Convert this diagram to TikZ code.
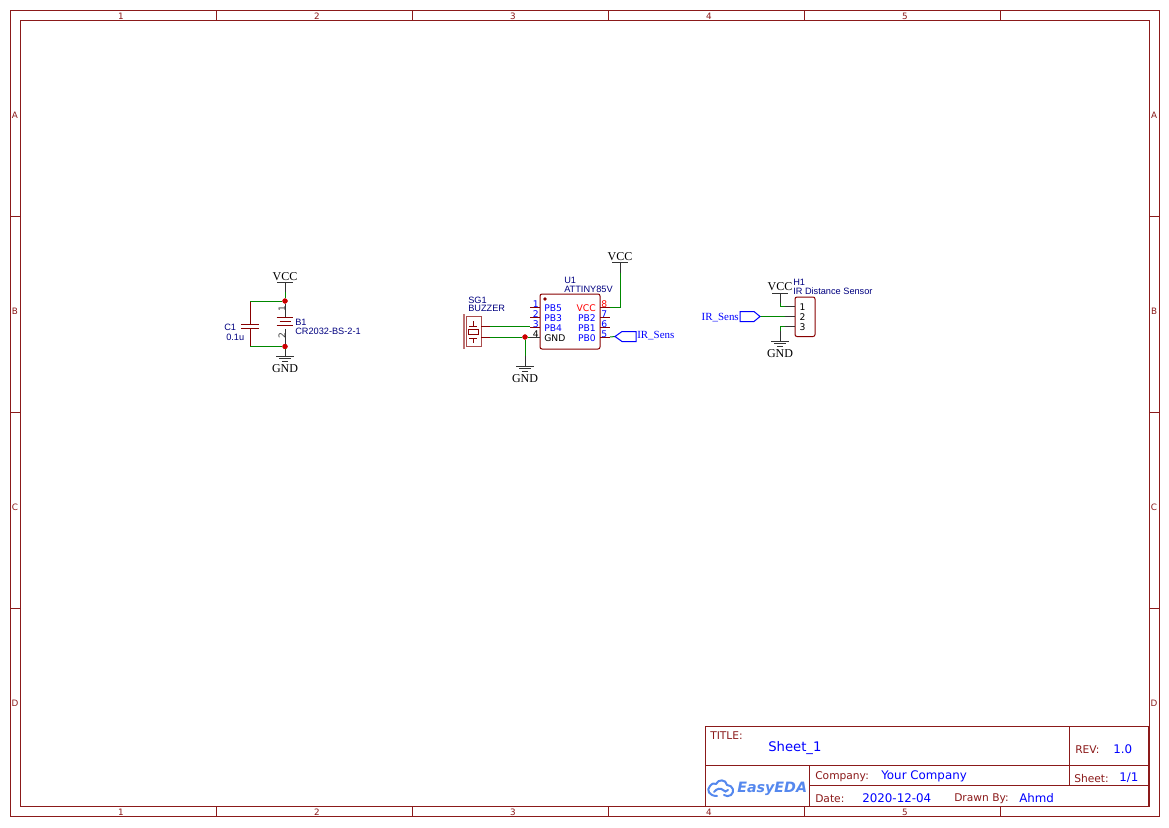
\documentclass[tikz,border=0pt]{standalone}
\usepackage{fontspec}
\setmainfont{DejaVu Sans}
\newfontfamily\arialf{Liberation Sans}
\newfontfamily\timesf{Liberation Serif}
\newfontfamily\logof{DejaVu Sans}
\definecolor{framered}{HTML}{8B1A1A}
\definecolor{symred}{HTML}{880000}
\definecolor{wiregreen}{HTML}{008800}
\definecolor{netblue}{HTML}{0000FF}
\definecolor{pinnavy}{HTML}{000080}
\definecolor{logoblue}{HTML}{5588EE}
\definecolor{juncred}{HTML}{CC0000}
\tikzset{
  x=0.75pt,y=-0.75pt,
  frameline/.style={draw=framered,line width=0.7pt},
  ticktxt/.style={text=framered,font=\fontsize{6.6}{7}\selectfont,inner sep=0pt},
  blocklbl/.style={text=framered,font=\fontsize{8}{9}\selectfont,inner sep=0pt,anchor=west},
  blockval/.style={text=netblue,font=\fontsize{8.9}{10}\selectfont,inner sep=0pt,anchor=west},
  wireg/.style={draw=wiregreen,line width=0.75pt},
  pinline/.style={draw=symred,line width=0.75pt},
  blkline/.style={draw=black!80,line width=0.75pt},
  symline/.style={draw=symred,line width=0.75pt},
  refname/.style={text=pinnavy,font=\arialf\fontsize{6.9}{8}\selectfont,inner sep=0pt,anchor=west},
  nettxt/.style={text=black,font=\timesf\fontsize{9}{10}\selectfont,inner sep=0pt},
  flagtxt/.style={text=netblue,font=\timesf\fontsize{8.2}{9}\selectfont,inner sep=0pt},
  pintxt/.style={text=netblue,font=\fontsize{6.9}{8}\selectfont,inner sep=0pt},
  pinnum/.style={text=netblue,font=\fontsize{6.9}{8}\selectfont,inner sep=0pt},
  junction/.style={circle,fill=juncred,inner sep=0pt,minimum size=3.9pt},
  powerbar/.style={draw=black!80,line width=0.75pt},
  flagshape/.style={draw=netblue,line width=0.75pt,fill=white},
}
\begin{document}
\begin{tikzpicture}
\useasboundingbox (0,0) rectangle (1169,827);
\fill[white] (0,0) rectangle (1169,827);
% sheet frame
\draw[frameline] (10.5,10.5) rectangle (1159,816.5);
\draw[frameline] (20,20.5) rectangle (1149,806.5);
\foreach \tx in {216,412,608,804,1000}{
  \draw[frameline] (\tx,10.5) -- (\tx,20.5);
  \draw[frameline] (\tx,806.5) -- (\tx,816.5);
}
\foreach \ty in {216.5,412.5,608.5}{
  \draw[frameline] (10.5,\ty) -- (20,\ty);
  \draw[frameline] (1149,\ty) -- (1159,\ty);
}
\foreach \tx/\tl in {121/1,317/2,513/3,709/4,905/5}{
  \node[ticktxt] (top\tl) at (\tx,16) {\tl};
  \node[ticktxt] (bot\tl) at (\tx,812) {\tl};
}
\foreach \ty/\tl in {115.5/A,311.5/B,507.5/C,703.5/D}{
  \node[ticktxt] (lft\tl) at (15,\ty) {\tl};
  \node[ticktxt] (rgt\tl) at (1154,\ty) {\tl};
}
% title block
\draw[frameline] (705,726.5) rectangle (1148.5,806);
\draw[frameline] (705,765.5) -- (1148.5,765.5);
\draw[frameline] (809.5,785.5) -- (1148.5,785.5);
\draw[frameline] (809.5,765.5) -- (809.5,806);
\draw[frameline] (1069.5,726.5) -- (1069.5,785.5);
\node[blocklbl] (ttl) at (710,735.5) {TITLE:};
\node[blockval,font=\fontsize{9.9}{12}\selectfont] (ttlv) at (768,748) {Sheet\_1};
\node[blocklbl] (co) at (815,776.7) {Company:};
\node[blockval] (cov) at (881,776.3) {Your Company};
\node[blocklbl] (dt) at (815,798.5) {Date:};
\node[blockval] (dtv) at (862,798.3) {2020-12-04};
\node[blocklbl] (drw) at (954,798.5) {Drawn By:};
\node[blockval] (drwv) at (1019,798.3) {Ahmd};
\node[blocklbl] (rev) at (1075,749.5) {REV:};
\node[blockval] (revv) at (1113,749) {1.0};
\node[blocklbl] (sht) at (1074,778.3) {Sheet:};
\node[blockval] (shtv) at (1119,778) {1/1};
% logo
\draw[logoblue,line width=1.5pt,line cap=round,line join=round]
  (717,796) .. controls (709,796) and (706,790) .. (710,786)
  .. controls (712,783) and (715,783) .. (716,784)
  .. controls (718,779) and (726,779) .. (727,785)
  .. controls (733,785) and (735,792) .. (731,795)
  .. controls (729,797) and (726,796) .. (724,795);
\draw[logoblue,line width=1.5pt,line cap=round] (714,792) .. controls (717,788) and (721,788) .. (723,790)
  .. controls (724,792) and (727,792) .. (728,790);
\node[inner sep=0pt,anchor=west,text=logoblue,font=\logof\bfseries\itshape\fontsize{10.7}{13}\selectfont] (logo) at (737,789) {EasyEDA};

% ---- battery section ----
\node[nettxt] (vcca) at (285,276.5) {VCC};
\coordinate (vccabar) at (285,282.5);
\coordinate (vccapin) at (285,292);
\node[junction] (jtop) at (285,301) {};
\coordinate (c1tl) at (250,301);
\coordinate (c1tp) at (250,302);
\coordinate (c1ta) at (250,324.5);
\coordinate (c1ba) at (250,328.5);
\coordinate (c1bp) at (250,346);
\node[junction] (jbot) at (285,346.5) {};
\coordinate (b1t) at (285,317);
\coordinate (b1b) at (285,329);
\coordinate (gndapin) at (285,356);
\node[nettxt] (gnda) at (285,368.5) {GND};
\draw[powerbar] (277,282.5) -- (293,282.5);
\draw[blkline] (vccabar) -- (vccapin);
\draw[wireg] (vccapin) -- (jtop) -- (c1tl) -- (c1tp);
\draw[pinline] (c1tp) -- (c1ta);
\draw[symline] (241,324.5) -- (259,324.5);
\draw[symline] (241,328.5) -- (259,328.5);
\draw[pinline] (c1ba) -- (c1bp);
\draw[wireg] (250,346.5) -- (jbot);
\draw[blkline] (jtop) -- (b1t);
\draw[symline] (276.5,317) -- (293,317);
\draw[symline] (279.5,321) -- (290.5,321);
\draw[symline] (276.5,325) -- (293,325);
\draw[blkline] (b1b) -- (jbot);
\draw[wireg] (jbot) -- (285,350);
\draw[blkline] (285,350) -- (gndapin);
\draw[powerbar] (276,356) -- (294,356);
\draw[powerbar] (279,358.5) -- (291,358.5);
\draw[powerbar] (282,361) -- (288,361);
\node[junction] at (jtop) {};
\node[junction] at (jbot) {};
\node[pinnum,text=black!75,rotate=90] (b1n1) at (282,309) {1};
\node[pinnum,text=black!75,rotate=90] (b1n2) at (282,336) {2};
\node[refname] (b1r) at (295,322.5) {B1};
\node[refname] (b1v) at (295,331) {CR2032-BS-2-1};
\node[refname] (c1r) at (224,327) {C1};
\node[refname] (c1v) at (226,337) {0.1u};

% ---- MCU ----
\node[refname] (u1r) at (564,280.5) {U1};
\node[refname] (u1v) at (564,289) {ATTINY85V};
\draw[symline,rounded corners=1.5pt] (540,294) rectangle (600,349);
\fill[symred] (545,299) circle (1.8);
\foreach \py/\pn/\pl in {307/1/PB5,317/2/PB3,327/3/PB4}{
  \draw[pinline] (530,\py) -- (540,\py);
  \node[pintxt,anchor=west] (ul\pn) at (544,\py+1) {\pl};
  \node[pinnum,anchor=east] (uln\pn) at (539,\py-3) {\pn};
}
\draw[blkline] (530,337) -- (540,337);
\node[pintxt,anchor=west,text=black] (ul4) at (544,338) {GND};
\node[pinnum,anchor=east,text=black] (uln4) at (539,334) {4};
\foreach \py/\pn/\pl in {317/7/PB2,327/6/PB1,337/5/PB0}{
  \draw[pinline] (600,\py) -- (610,\py);
  \node[pintxt,anchor=east] (ur\pn) at (596,\py+1) {\pl};
  \node[pinnum,anchor=west] (urn\pn) at (601,\py-3) {\pn};
}
\draw[pinline] (600,307) -- (610,307);
\node[pintxt,anchor=east,text=red] (ur8) at (596,308) {VCC};
\node[pinnum,anchor=west,text=red] (urn8) at (601,304) {8};
% VCC to U1
\node[nettxt] (vccb) at (620,256.5) {VCC};
\coordinate (vccbbar) at (620,262.5);
\coordinate (vccbpin) at (620,273);
\coordinate (vccbc) at (620,307);
\coordinate (u18) at (610,307);
\draw[powerbar] (612,262.5) -- (628,262.5);
\draw[blkline] (vccbbar) -- (vccbpin);
\draw[wireg] (vccbpin) -- (vccbc) -- (u18);
% flag on pin 5
\coordinate (u15) at (610,337);
\coordinate (flagaT) at (615,336.5);
\draw[wireg] (u15) -- (flagaT);
\draw[flagshape] (615,336.5) -- (622,331.5) -- (636,331.5) -- (636,341.5) -- (622,341.5) -- cycle;
\node[flagtxt,anchor=west] (flaga) at (637,336) {IR\_Sens};
% buzzer
\node[refname] (sg1r) at (468,300) {SG1};
\node[refname] (sg1v) at (468,308.5) {BUZZER};
\draw[symred!55!white,line width=2.2pt] (464,314) -- (464,348.5);
\draw[symline,draw opacity=.7] (466,316.5) rectangle (481,346);
\draw[symline] (468,329.5) rectangle (478,334);
\draw[symline] (473,321) -- (473,326) (469,326) -- (477,326);
\draw[symline] (473,343) -- (473,338) (469,338) -- (477,338);
\coordinate (sg1a) at (490,326.5);
\coordinate (sg1b) at (490,337);
\coordinate (u13) at (530,326.5);
\coordinate (u14) at (530,337);
\node[junction] (jgnd) at (525,337) {};
\draw[pinline] (481,326.5) -- (sg1a);
\draw[pinline] (481,337) -- (sg1b);
\draw[wireg] (sg1a) -- (u13);
\draw[wireg] (sg1b) -- (jgnd) -- (u14);
\coordinate (gndbpin) at (525,356);
\draw[wireg] (jgnd) -- (gndbpin);
\draw[blkline] (gndbpin) -- (525,366);
\draw[powerbar] (516,366) -- (534,366);
\draw[powerbar] (519,368.5) -- (531,368.5);
\draw[powerbar] (522,371) -- (528,371);
\node[junction] at (jgnd) {};
\node[nettxt] (gndb) at (525,379) {GND};

% ---- header ----
\node[refname] (h1r) at (793,282) {H1};
\node[refname] (h1v) at (793,291) {IR Distance Sensor};
\draw[symline,rounded corners=1.5pt] (795,297) rectangle (815,336.5);
\foreach \py/\pn in {306.5/1,316.5/2,326.5/3}{
  \draw[blkline] (785,\py) -- (795,\py);
  \node[pintxt,text=black] (hn\pn) at (802.5,\py+0.5) {\pn};
}
\node[nettxt] (vccc) at (780,286.5) {VCC};
\coordinate (h1p1) at (785,306.5);
\coordinate (vcccb) at (780,293);
\coordinate (vcccp) at (780,303);
\coordinate (vcccc) at (780,306.5);
\draw[powerbar] (772,293) -- (788,293);
\draw[blkline] (vcccb) -- (vcccp);
\draw[wireg] (vcccp) -- (vcccc) -- (h1p1);
\coordinate (h1p2) at (785,316.5);
\coordinate (flagbT) at (760,316.5);
\draw[wireg] (flagbT) -- (h1p2);
\draw[flagshape] (740,311.5) -- (754,311.5) -- (760,316.5) -- (754,321.5) -- (740,321.5) -- cycle;
\node[flagtxt,anchor=east] (flagb) at (739,318) {IR\_Sens};
\coordinate (h1p3) at (785,326.5);
\coordinate (gndcc) at (780,326.5);
\coordinate (gndcp) at (780,331);
\draw[wireg] (h1p3) -- (gndcc) -- (gndcp);
\draw[blkline] (gndcp) -- (780,341);
\draw[powerbar] (771,341) -- (789,341);
\draw[powerbar] (774,343.5) -- (786,343.5);
\draw[powerbar] (777,346) -- (783,346);
\node[nettxt] (gndc) at (780,354) {GND};
\end{tikzpicture}
\end{document}
